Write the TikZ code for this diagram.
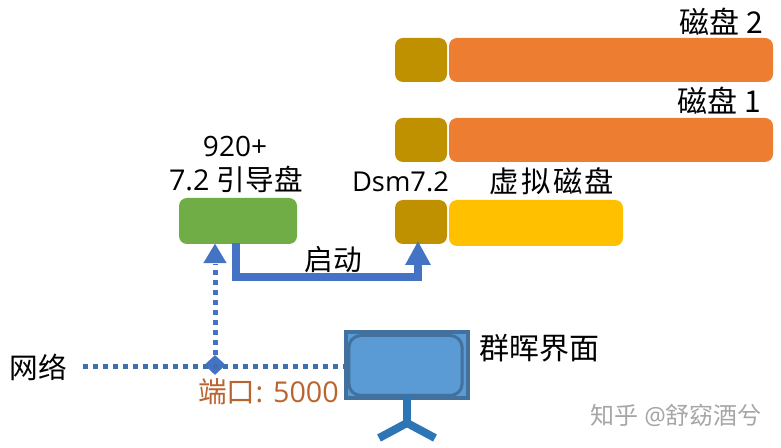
\documentclass[tikz,border=0pt]{standalone}
\usepackage{fontspec}
\setmainfont{Open Sans}
\newfontfamily\cjk{Noto Sans CJK SC}
\newfontfamily\cjkwide[LetterSpace=8]{Noto Sans CJK SC}
\usetikzlibrary{arrows.meta,shapes.geometric}
\definecolor{diskorange}{HTML}{ED7D31}
\definecolor{diskyellow}{HTML}{FFC000}
\definecolor{dsmgold}{HTML}{BF9000}
\definecolor{bootgreen}{HTML}{70AD47}
\definecolor{linkblue}{HTML}{4472C4}
\definecolor{netblue}{HTML}{3E70AE}
\definecolor{screenblue}{HTML}{5B9BD5}
\definecolor{screenedge}{HTML}{41719C}
\definecolor{standblue}{HTML}{2E75B6}
\definecolor{portbrown}{HTML}{B9652F}
\tikzset{
    px/.style={x=0.75pt,y=-0.75pt},
    blockbox/.style={inner sep=0pt,rounded corners=6pt,minimum height=33pt},
    lbl/.style={inner sep=0pt,font=\fontsize{21.5}{25}\selectfont},
    biglbl/.style={inner sep=0pt,font=\fontsize{22.5}{26}\selectfont},
    bootline/.style={draw=linkblue,line width=6pt,-{Triangle[length=18pt,width=18pt]}},
    netline/.style={draw=netblue,line width=3.75pt,dash pattern=on 3.75pt off 3.75pt},
    upline/.style={draw=linkblue,line width=3.75pt,dash pattern=on 3.75pt off 3.75pt},
    stand/.style={draw=standblue,line width=6pt}
}
\begin{document}
\begin{tikzpicture}[px]
    \useasboundingbox (0,0) rectangle (781,448);
    % disks
    \node (dsmtwo) [blockbox,fill=dsmgold,minimum width=39pt] at (421,60) {};
    \node (disktwo) [blockbox,fill=diskorange,minimum width=243pt] at (611,60) {};
    \node (dsmone) [blockbox,fill=dsmgold,minimum width=39pt] at (421,140) {};
    \node (diskone) [blockbox,fill=diskorange,minimum width=243pt] at (611,140) {};
    \node (dsmboot) [blockbox,fill=dsmgold,minimum width=39pt] at (421,222) {};
    \node (vdisk) [blockbox,fill=diskyellow,minimum width=130.5pt,minimum height=34.5pt] at (536,223) {};
    \node (loader) [blockbox,fill=bootgreen,minimum width=88.5pt,minimum height=34.5pt] at (238,221) {};
    % screen
    \node (screen) [fill=screenblue,draw=screenedge,line width=3pt,inner sep=0pt,minimum width=91pt,minimum height=49pt] at (407,365) {};
    \node (panel) [draw=screenedge,line width=2.25pt,rounded corners=9pt,inner sep=0pt,minimum width=85pt,minimum height=45pt] at (405.5,365.5) {};
    \coordinate (standtop) at (407,395);
    \coordinate (standmid) at (407,423);
    \coordinate (standl) at (379,438);
    \coordinate (standr) at (435,438);
    \draw [stand] (standtop) -- (standmid);
    \draw [stand] (standl) -- (standmid) -- (standr);
    % labels
    \node (ltwo) [biglbl] at (721.5,22) {\cjk 磁盘 2};
    \node (lone) [biglbl] at (719,101) {\cjk 磁盘 1};
    \node (lvdisk) [biglbl,font=\fontsize{22}{26}\selectfont] at (552,181) {\cjkwide 虚拟磁盘};
    \node (ldsm) [lbl,font=\fontsize{20.5}{25}\selectfont] at (400.5,182) {Dsm7.2};
    \node (lmodel) [lbl,font=\fontsize{21}{25}\selectfont] at (235,146) {920+};
    \node (lloader) [lbl] at (236,179) {7.2 {\cjk 引导盘}};
    \node (lboot) [lbl] at (333.5,260) {\cjk 启动};
    \node (lnet) [lbl] at (38.5,367) {\cjk 网络};
    \node (lport) [lbl,text=portbrown] at (268.5,392) {{\cjk 端口}: 5000};
    \node (lscreen) [biglbl] at (539.5,348) {\cjk 群晖界面};
    \node (lmark) [inner sep=0pt,text=black!35,font=\fontsize{18}{22}\selectfont] at (676,415) {{\cjk 知乎} @{\cjk 舒窈酒兮}};
    % links
    \node (port) [diamond,fill=linkblue,inner sep=0pt,minimum width=16pt,minimum height=15pt] at (215,365) {};
    \draw [netline] (lnet.east) ++(16,0) coordinate (netstart) -- (screen.west |- netstart);
    \draw [upline] (port) -- (215,264);
    \node (uptip) [isosceles triangle,isosceles triangle apex angle=62,shape border rotate=90,fill=linkblue,inner sep=0pt,minimum width=15pt,minimum height=14.5pt] at (215,256.5) {};
    \draw [bootline] (loader.south) ++(-2,-1) -- ++(0,34) -- ++(182,0) -- (418,241);
\end{tikzpicture}
\end{document}
